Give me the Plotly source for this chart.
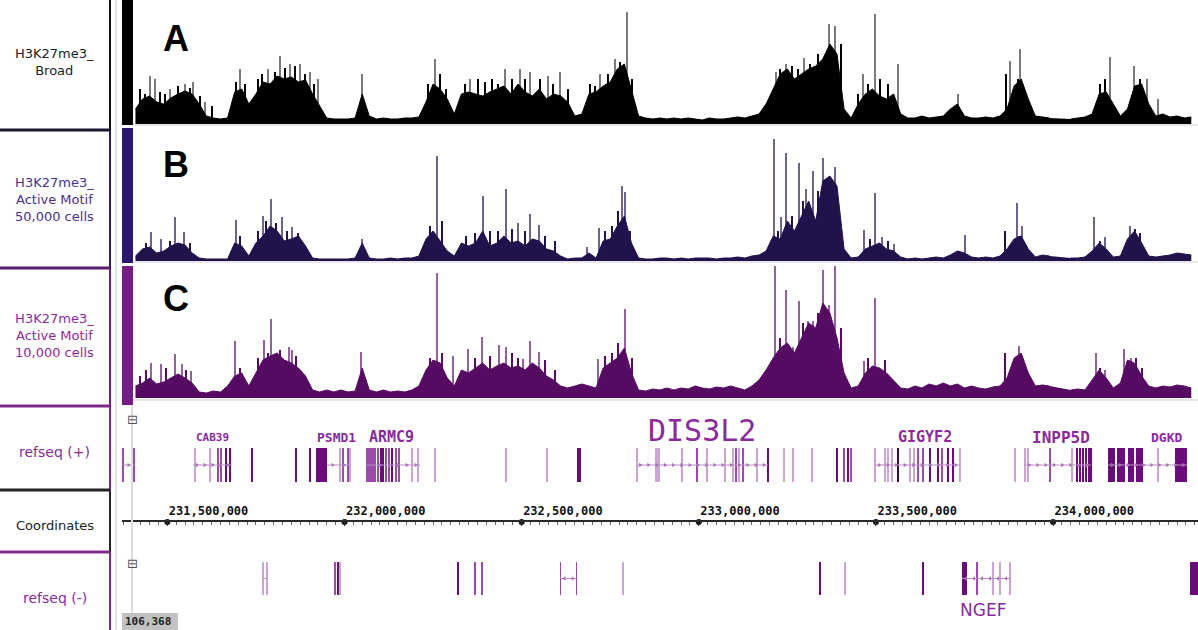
import plotly.graph_objects as go

W, H = 1198, 630

# genomic window shown (Mb)
x_start, x_end = 231.372, 234.409

# ---- signal tracks: 20 kb bins starting at 231.40 Mb ----
bin_start = 231.40
bin_size = 0.02

broad = [15, 25, 28, 22, 20, 26, 30, 33, 30, 20,
         8, 6, 5, 6, 32, 35, 20, 30, 42, 40,
         48, 45, 47, 42, 44, 30, 18, 6, 5, 5,
         5, 6, 30, 8, 5, 6, 5, 5, 6, 6,
         7, 22, 40, 35, 25, 10, 30, 32, 30, 28,
         32, 35, 38, 30, 40, 32, 28, 35, 25, 30,
         28, 22, 8, 10, 30, 32, 38, 42, 55, 60,
         35, 8, 6, 5, 6, 5, 6, 5, 6, 5,
         4, 6, 5, 5, 6, 7, 6, 8, 10, 20,
         35, 50, 55, 45, 50, 55, 58, 65, 80, 70,
         15, 6, 20, 30, 35, 28, 25, 30, 10, 6,
         6, 8, 6, 7, 8, 15, 20, 8, 6, 6,
         7, 6, 8, 15, 38, 45, 25, 8, 7, 6,
         None, None, 5, 6, 7, 10, 30, 32, 20, 8,
         15, 38, 40, 20, 8, 10, 7, 8, 6, 7]

am_50k = [5, 12, 14, 8, 10, 15, 18, 16, 8, 3,
          2, 2, 2, 2, 18, 15, 5, 18, 25, 35,
          30, 20, 22, 25, 15, 3, 2, 2, 2, 2,
          2, 3, 18, 3, 2, 2, 3, 2, 3, 3,
          5, 22, 30, 20, 10, 5, 18, 15, 18, 30,
          15, 18, 25, 18, 20, 15, 22, 20, 12, 10,
          5, 2, 3, 3, 8, 3, 20, 22, 35, 45,
          18, 3, 2, 2, 3, 3, 2, 3, 2, 3,
          3, 3, 2, 3, 3, 4, 3, 5, 6, 10,
          25, 22, 40, 30, 45, 60, 40, 80, 85, 75,
          12, 3, 4, 12, 15, 18, 12, 10, 4, 2,
          3, 2, 3, 4, 3, 6, 10, 8, 4, 3,
          4, 3, 5, 12, 22, 25, 12, 4, 6, 5,
          None, None, 3, 3, 4, 10, 18, 12, 4, 5,
          22, 30, 18, 5, 4, 5, 6, 8, 7, 6]

am_10k = [12, 15, 20, 14, 16, 20, 24, 20, 15, 6,
          5, 7, 6, 12, 22, 25, 12, 25, 38, 42,
          45, 38, 35, 30, 22, 8, 6, 8, 6, 8,
          6, 7, 30, 8, 6, 8, 6, 7, 6, 8,
          12, 28, 38, 35, 20, 12, 28, 25, 30, 35,
          28, 32, 35, 30, 32, 28, 35, 30, 22, 18,
          12, 10, 12, 14, 12, 10, 30, 35, 40, 50,
          25, 8, 7, 9, 8, 10, 8, 10, 9, 12,
          10, 9, 11, 10, 12, 10, 8, 12, 18, 28,
          40, 50, 55, 45, 60, 75, 70, 95, 85, 60,
          25, 10, 12, 25, 32, 30, 25, 18, 10, 9,
          12, 10, 14, 12, 15, 12, 14, 10, 12, 10,
          9, 11, 12, 20, 40, 45, 25, 12, 13, 12,
          None, None, 8, 9, 8, 18, 28, 20, 10, 15,
          38, 35, 22, 12, 10, 12, 11, 13, 12, 10]

# tall single-bin spikes on top of the signal (drawn lighter)
broad_spike_pos = [231.451, 231.465, 231.507, 231.550, 231.572, 231.606, 231.705, 231.784,
                   231.818, 231.846, 231.874, 231.903, 231.925, 232.049, 232.255, 232.354,
                   232.453, 232.495, 232.524, 232.574, 232.608, 232.721, 232.763, 232.797,
                   233.218, 233.246, 233.297, 233.368, 233.384, 233.463, 233.497, 233.562,
                   233.732, 233.878, 233.906, 234.161, 234.228, 234.265, 234.296]
broad_spike_val = [48, 45, 35, 40, 42, 22, 55, 55,
                   68, 60, 60, 52, 45, 50, 65, 45,
                   55, 55, 52, 48, 52, 50, 65, 112,
                   52, 60, 66, 100, 98, 50, 110, 60,
                   30, 63, 75, 67, 58, 45, 25]

am_50k_spike_pos = [231.454, 231.482, 231.522, 231.547, 231.694, 231.770, 231.793, 231.824,
                    231.852, 232.049, 232.261, 232.391, 232.456, 232.490, 232.524, 232.549,
                    232.684, 232.718, 232.783, 232.792, 233.212, 233.232, 233.246, 233.283,
                    233.302, 233.322, 233.350, 233.365, 233.384, 233.466, 233.497, 233.517,
                    233.551, 233.751, 233.898, 233.912, 234.115, 234.146, 234.217]
am_50k_spike_val = [29, 22, 44, 29, 41, 45, 62, 44,
                    34, 22, 105, 65, 72, 38, 47, 36,
                    14, 33, 75, 69, 122, 44, 108, 98,
                    72, 90, 103, 79, 94, 31, 68, 24,
                    17, 26, 58, 35, 44, 24, 35]

am_10k_spike_pos = [231.454, 231.482, 231.522, 231.541, 231.567, 231.691, 231.773, 231.793,
                    231.843, 231.852, 232.047, 232.261, 232.306, 232.349, 232.388, 232.436,
                    232.456, 232.504, 232.524, 232.549, 232.715, 232.792, 233.215, 233.246,
                    233.266, 233.283, 233.308, 233.322, 233.350, 233.368, 233.384, 233.466,
                    233.497, 233.904, 234.121, 234.146, 234.200, 234.220]
am_10k_spike_val = [35, 34, 44, 34, 27, 57, 58, 79,
                    51, 48, 46, 125, 42, 49, 61, 53,
                    51, 39, 57, 46, 39, 89, 132, 108,
                    51, 97, 77, 77, 128, 93, 132, 37,
                    100, 52, 45, 28, 49, 40]

# narrower peaks inside the enriched blocks (drawn in the track colour)
broad_peak_pos = [231.4228, 231.4369, 231.4793, 231.4934, 231.5301, 231.5639, 231.5922, 231.6260,
                  231.6938, 231.7192, 231.7559, 231.7672, 231.8038, 231.8321, 231.8603, 231.8885,
                  231.9139, 232.2357, 232.2696, 232.2865, 232.3401, 232.3768, 232.3966, 232.4163,
                  232.4333, 232.4728, 232.5095, 232.5518, 232.5885, 232.6308, 232.6929, 232.7070,
                  232.7437, 232.7776, 232.8115, 233.2292, 233.2631, 233.2800, 233.3139, 233.3365,
                  233.4014, 233.4494, 233.4776, 233.5115, 233.5341, 233.8669, 233.9007, 234.1324,
                  234.1465, 234.2453]
broad_peak_val = [35, 30, 32, 30, 38, 36, 28, 18,
                  42, 40, 45, 50, 52, 56, 58, 50,
                  40, 40, 50, 35, 40, 45, 42, 45,
                  40, 45, 45, 45, 40, 35, 40, 38,
                  50, 62, 45, 55, 58, 55, 60, 70,
                  80, 30, 40, 45, 40, 50, 45, 40,
                  45, 45]

am_50k_peak_pos = [231.4397, 231.5075, 231.5639, 231.7051, 231.7559, 231.7784, 231.8067, 231.8377,
                   231.8688, 232.2413, 232.2752, 232.3429, 232.3683, 232.4107, 232.4333, 232.4728,
                   232.5095, 232.5659, 232.5942, 232.7353, 232.7550, 232.7720, 232.8058, 233.2236,
                   233.2631, 233.2942, 233.3365, 233.3986, 233.4833, 233.5341, 233.8640, 233.9035,
                   234.1324, 234.2312, 234.2453]
am_50k_peak_val = [18, 20, 18, 25, 30, 40, 38, 30,
                   28, 35, 40, 25, 28, 30, 30, 32,
                   30, 25, 20, 30, 35, 50, 30, 30,
                   45, 60, 70, 40, 22, 20, 30, 25,
                   20, 32, 28]

am_10k_peak_pos = [231.4228, 231.4397, 231.4962, 231.5526, 231.7051, 231.7559, 231.7841, 231.8180,
                   231.8631, 232.2413, 232.2752, 232.3683, 232.4107, 232.4728, 232.4897, 232.5659,
                   232.5942, 232.7353, 232.7550, 232.7720, 232.8115, 233.2292, 233.2942, 233.3365,
                   233.4014, 233.4776, 233.5256, 233.8640, 233.9007, 234.1324, 234.2340, 234.2510]
am_10k_peak_val = [22, 28, 30, 28, 30, 40, 45, 48,
                   42, 40, 45, 40, 42, 45, 40, 38,
                   28, 42, 45, 55, 40, 60, 75, 85,
                   70, 40, 38, 45, 40, 30, 40, 30]

# ---- refseq (+) ----
plus_exon_start = [231.3740, 231.4045,
                   231.5770, 231.6190, 231.6420, 231.6500, 231.6640, 231.6750,
                   231.7370, 231.8615, 231.9010,
                   231.9196, 231.9860, 231.9940, 232.0080, 232.0140,
                   232.0625, 232.0680, 232.0735, 232.0790, 232.0850, 232.0935, 232.1015, 232.1075,
                   232.1160, 232.1240, 232.1325, 232.1440, 232.1525, 232.1890, 232.2060,
                   232.2540, 232.4545, 232.5700, 232.6560,
                   232.8245, 232.8764, 232.9515, 232.9930, 233.0220, 233.0728, 233.0955, 233.1038,
                   233.1123, 233.1236, 233.1630, 233.1940,
                   233.2393, 233.2647, 233.3184,
                   233.3885, 233.4085, 233.4198, 233.4283,
                   233.4960, 233.5243, 233.5328, 233.5440, 233.5612, 233.5948, 233.6062, 233.6175,
                   233.6315, 233.6510, 233.6735, 233.6852, 233.7015, 233.7160, 233.7360,
                   233.8912, 233.9195, 233.9280, 233.9900, 234.0522, 234.0660, 234.0745, 234.0830,
                   234.0915, 234.1000, 234.1055,
                   234.1550, 234.1804, 234.2115, 234.2340, 234.2950, 234.3441]
plus_exon_end = [231.3770, 231.4075,
                 231.5800, 231.6220, 231.6450, 231.6530, 231.6680, 231.6790,
                 231.7420, 231.8650, 231.9045,
                 231.9506, 231.9890, 231.9970, 232.0110, 232.0170,
                 232.0655, 232.0710, 232.0765, 232.0820, 232.0880, 232.0965, 232.1045, 232.1105,
                 232.1190, 232.1270, 232.1360, 232.1470, 232.1555, 232.1920, 232.2090,
                 232.2570, 232.4575, 232.5730, 232.6680,
                 232.8270, 232.8905, 232.9540, 232.9975, 233.0245, 233.0753, 233.0980, 233.1063,
                 233.1148, 233.1261, 233.1655, 233.1975,
                 233.2418, 233.2672, 233.3209,
                 233.3920, 233.4115, 233.4228, 233.4313,
                 233.4985, 233.5268, 233.5353, 233.5465, 233.5635, 233.5973, 233.6087, 233.6200,
                 233.6340, 233.6545, 233.6770, 233.6877, 233.7055, 233.7190, 233.7385,
                 233.8937, 233.9220, 233.9305, 233.9930, 234.0547, 234.0690, 234.0775, 234.0860,
                 234.0945, 234.1030, 234.1085,
                 234.1747, 234.2030, 234.2284, 234.2538, 234.2975, 234.3780]
plus_exon_shade = ['m', 'm',
                   'l', 'l', 'm', 'm', 'd', 'd',
                   'd', 'd', 'd',
                   'd', 'l', 'm', 'm', 'l',
                   'm', 'm', 'm', 'm', 'm', 'm', 'd', 'd',
                   'm', 'm', 'd', 'm', 'm', 'l', 'l',
                   'l', 'l', 'l', 'd',
                   'l', 'l', 'l', 'm', 'l', 'l', 'l', 'm',
                   'l', 'm', 'l', 'd',
                   'l', 'l', 'l',
                   'd', 'm', 'd', 'm',
                   'l', 'l', 'l', 'l', 'k', 'l', 'l', 'm',
                   'm', 'd', 'd', 'm', 'd', 'd', 'l',
                   'l', 'l', 'l', 'm', 'l', 'd', 'd', 'd',
                   'd', 'd', 'd',
                   'd', 'd', 'd', 'd', 'l', 'd']
plus_intron_start = [231.3748, 231.5724, 231.9506, 232.0635, 232.8228, 233.4973, 233.9207, 234.1550]
plus_intron_end = [231.4059, 231.6825, 232.0153, 232.2131, 233.1953, 233.7373, 234.1070, 234.3780]

plus_gene_name = ['CAB39', 'PSMD1', 'ARMC9', 'DIS3L2', 'GIGYF2', 'INPP5D', 'DGKD']
plus_gene_pos = [231.6288, 231.9760, 232.1340, 233.0091, 233.6385, 234.0223, 234.3187]

# ---- refseq (-) ----
minus_exon_start = [231.7690, 231.7800,
                    231.9720, 231.9805, 231.9860,
                    232.3190, 232.3670, 232.3868,
                    232.6085, 232.6535, 232.7848,
                    233.3405, 233.4115, 233.6312,
                    233.7429, 233.7840, 233.8292, 233.8490, 233.8772,
                    234.3864]
minus_exon_end = [231.7715, 231.7825,
                  231.9745, 231.9835, 231.9885,
                  232.3225, 232.3695, 232.3893,
                  232.6110, 232.6560, 232.7873,
                  233.3435, 233.4140, 233.6345,
                  233.7570, 233.7865, 233.8317, 233.8515, 233.8797,
                  234.4090]
minus_exon_shade = ['l', 'l',
                    'm', 'd', 'l',
                    'd', 'm', 'm',
                    'm', 'm', 'l',
                    'd', 'l', 'd',
                    'd', 'm', 'l', 'l', 'l',
                    'd']
minus_intron_start = [231.7700, 232.6098, 233.7429]
minus_intron_end = [231.7813, 232.6549, 233.8784]

minus_gene_name = ['NGEF']
minus_gene_pos = [233.8022]

# ---- coordinates ----
coord_ticks = [231.5, 232.0, 232.5, 233.0, 233.5, 234.0]
coord_labels = ['231,500,000', '232,000,000', '232,500,000',
                '233,000,000', '233,500,000', '234,000,000']


def fx(px):
    return px / W


def fy(px):
    return 1 - px / H


shade_color = {'d': '#6a0c7a', 'm': '#9b4caa', 'l': '#caa4d3', 'k': '#3a0846'}
label_purple = '#8a2a9b'

bin_x = [bin_start + bin_size * (i + 0.5) for i in range(len(broad))]

fig = go.Figure()

tracks = [
    (broad, broad_spike_pos, broad_spike_val, broad_peak_pos, broad_peak_val,
     'y', '#000000', '#7a7a7a'),
    (am_50k, am_50k_spike_pos, am_50k_spike_val, am_50k_peak_pos, am_50k_peak_val,
     'y2', '#22124c', '#6f6290'),
    (am_10k, am_10k_spike_pos, am_10k_spike_val, am_10k_peak_pos, am_10k_peak_val,
     'y3', '#560b62', '#94609e'),
]
for body, sp_pos, sp_val, pk_pos, pk_val, yax, col, spike_col in tracks:
    fig.add_trace(go.Bar(x=sp_pos, y=sp_val, width=0.0035, marker_color=spike_col,
                         marker_line_width=0, yaxis=yax, hoverinfo='skip'))
    fig.add_trace(go.Scatter(x=bin_x, y=body, mode='lines', fill='tozeroy',
                             line=dict(color=col, width=1), fillcolor=col,
                             connectgaps=False, yaxis=yax, hoverinfo='skip'))
    fig.add_trace(go.Bar(x=pk_pos, y=pk_val, width=0.0032, marker_color=col,
                         marker_line_width=0, yaxis=yax, hoverinfo='skip'))


def gene_row(ex_start, ex_end, ex_shade, in_start, in_end, yax, arrow):
    for s, e in zip(in_start, in_end):
        fig.add_trace(go.Scatter(x=[s, e], y=[0.5, 0.5], mode='lines',
                                 line=dict(color='#b98cc4', width=1),
                                 yaxis=yax, hoverinfo='skip'))
        n = int((e - s) / 0.022)
        if n > 0:
            ax = [s + (e - s) * (k + 0.5) / n for k in range(n)]
            fig.add_trace(go.Scatter(x=ax, y=[0.5] * n, mode='markers',
                                     marker=dict(symbol=arrow, size=4, color='#a873b4'),
                                     yaxis=yax, hoverinfo='skip'))
    centers = [(s + e) / 2 for s, e in zip(ex_start, ex_end)]
    widths = [e - s for s, e in zip(ex_start, ex_end)]
    fig.add_trace(go.Bar(x=centers, y=[1] * len(centers), width=widths,
                         marker_color=[shade_color[c] for c in ex_shade],
                         marker_line_width=0, yaxis=yax, hoverinfo='skip'))


gene_row(plus_exon_start, plus_exon_end, plus_exon_shade,
         plus_intron_start, plus_intron_end, 'y4', 'triangle-right')
gene_row(minus_exon_start, minus_exon_end, minus_exon_shade,
         minus_intron_start, minus_intron_end, 'y6', 'triangle-left')

# major tick dots on coordinate line
fig.add_trace(go.Scatter(x=coord_ticks, y=[1] * len(coord_ticks), mode='markers',
                         marker=dict(color='#111', size=6), xaxis='x2', yaxis='y5',
                         cliponaxis=False, hoverinfo='skip'))

xdom = [fx(122), 1]
hidden = dict(visible=False, fixedrange=True)
fig.update_layout(
    width=W, height=H,
    margin=dict(l=0, r=0, t=0, b=0),
    paper_bgcolor='white', plot_bgcolor='rgba(0,0,0,0)',
    showlegend=False, barmode='overlay', bargap=0,
    xaxis=dict(domain=xdom, range=[x_start, x_end], visible=False),
    xaxis2=dict(domain=xdom, range=[x_start, x_end], matches='x', anchor='y5', side='top',
                showline=True, linecolor='#2a2a2a', linewidth=2, showgrid=False, zeroline=False,
                tickmode='array', tickvals=coord_ticks, ticktext=coord_labels,
                ticks='inside', ticklen=4, tickcolor='#2a2a2a',
                ticklabelposition='outside right',
                tickfont=dict(family='DejaVu Sans Mono', size=12, color='#111', weight='bold'),
                minor=dict(tickmode='linear', tick0=231.0, dtick=0.025, ticks='inside',
                           ticklen=3, tickcolor='#666', showgrid=False)),
    yaxis=dict(domain=[fy(124), fy(0)], range=[0, 124], **hidden),
    yaxis2=dict(domain=[fy(261), fy(130)], range=[0, 131], **hidden),
    yaxis3=dict(domain=[fy(398), fy(265)], range=[0, 133], **hidden),
    yaxis4=dict(domain=[fy(482), fy(448)], range=[0, 1], **hidden),
    yaxis5=dict(domain=[fy(545), fy(522)], range=[0, 1], anchor='x2', **hidden),
    yaxis6=dict(domain=[fy(595), fy(562)], range=[0, 1], **hidden),
)

shapes = []
# faint scroll strip and guide line
shapes.append(dict(type='line', xref='paper', yref='paper', x0=fx(116), x1=fx(116),
                   y0=0, y1=1, line=dict(color='#e2e2e2', width=2)))
shapes.append(dict(type='line', xref='paper', yref='paper', x0=fx(132), x1=fx(132),
                   y0=fy(630), y1=fy(406), line=dict(color='#dedede', width=2)))
# coloured track handles
for y0, y1, col in [(0, 125, '#000000'), (128, 263, '#2b1670'), (266, 405, '#741d86')]:
    shapes.append(dict(type='rect', xref='paper', yref='paper', x0=fx(122), x1=fx(133),
                       y0=fy(y1), y1=fy(y0), fillcolor=col, line=dict(width=0)))
# track bottom lines
for yy, col in [(125, '#cfcfcf'), (262, '#d2cde0'), (400, '#d9c3de')]:
    shapes.append(dict(type='line', xref='paper', yref='paper', x0=fx(133), x1=1,
                       y0=fy(yy), y1=fy(yy), line=dict(color=col, width=1)))
# label panel borders
for y0, y1, col in [(0, 130, '#111111'), (130, 268, '#2b1670'), (268, 406, '#6e1a80'),
                    (406, 490, '#7b2a8c'), (490, 552, '#222222'), (552, 630, '#7b2a8c')]:
    shapes.append(dict(type='line', xref='paper', yref='paper', x0=fx(110), x1=fx(110),
                       y0=fy(y1), y1=fy(y0), line=dict(color=col, width=2)))
for yy, col in [(130, '#1d1430'), (268, '#5a1a6e'), (406, '#7b2a8c'), (490, '#222222'),
                (552, '#7b2a8c')]:
    shapes.append(dict(type='line', xref='paper', yref='paper', x0=0, x1=fx(110),
                       y0=fy(yy), y1=fy(yy), line=dict(color=col, width=3)))
# position readout box
shapes.append(dict(type='rect', xref='paper', yref='paper', x0=fx(122), x1=fx(178),
                   y0=0, y1=fy(613), fillcolor='#c2c2c2', line=dict(width=0)))
fig.update_layout(shapes=shapes)

ann = []
left_labels = [
    ('H3K27me3_<br>Broad', 62, '#222222', 13),
    ('H3K27me3_<br>Active Motif<br>50,000 cells', 199, '#4a3191', 13),
    ('H3K27me3_<br>Active Motif<br>10,000 cells', 335, '#8c2aa0', 13),
    ('refseq (+)', 452, label_purple, 14),
    ('Coordinates', 525, '#222222', 13),
    ('refseq (-)', 598, label_purple, 14),
]
for txt, yy, col, sz in left_labels:
    ann.append(dict(text=txt, xref='paper', yref='paper', x=fx(55), y=fy(yy),
                    showarrow=False, xanchor='center', yanchor='middle',
                    font=dict(family='DejaVu Sans', size=sz, color=col)))
for letter, yy in [('A', 38), ('B', 165), ('C', 298)]:
    ann.append(dict(text=letter, xref='paper', yref='paper', x=fx(176), y=fy(yy),
                    showarrow=False, xanchor='center', yanchor='middle',
                    font=dict(family='Liberation Sans', size=36, color='#000', weight='bold')))

gene_font_size = {'CAB39': 11, 'PSMD1': 13, 'ARMC9': 15, 'DIS3L2': 30,
                  'GIGYF2': 15, 'INPP5D': 16, 'DGKD': 13}
for name, pos in zip(plus_gene_name, plus_gene_pos):
    big = name == 'DIS3L2'
    ann.append(dict(text=name, xref='x', yref='paper', x=pos, y=fy(430 if big else 437),
                    showarrow=False, xanchor='center', yanchor='middle',
                    font=dict(family='DejaVu Sans Mono', size=gene_font_size[name],
                              color=label_purple, weight='normal' if big else 'bold')))
for name, pos in zip(minus_gene_name, minus_gene_pos):
    ann.append(dict(text=name, xref='x', yref='paper', x=pos, y=fy(610),
                    showarrow=False, xanchor='center', yanchor='middle',
                    font=dict(family='DejaVu Sans', size=17, color=label_purple)))

for yy in [419, 563]:
    ann.append(dict(text='⊟', xref='paper', yref='paper', x=fx(132), y=fy(yy),
                    showarrow=False, xanchor='center', yanchor='middle',
                    font=dict(family='DejaVu Sans', size=13, color='#555')))
ann.append(dict(text='106,368', xref='paper', yref='paper', x=fx(123), y=fy(621),
                showarrow=False, xanchor='left', yanchor='middle',
                font=dict(family='DejaVu Sans Mono', size=11, color='#222', weight='bold')))
fig.update_layout(annotations=ann)

# drop the default page margin so the figure sits at the window's top-left corner
fig.write_html("out.html", config={'displayModeBar': False},
               post_script="document.body.style.margin='0';")
